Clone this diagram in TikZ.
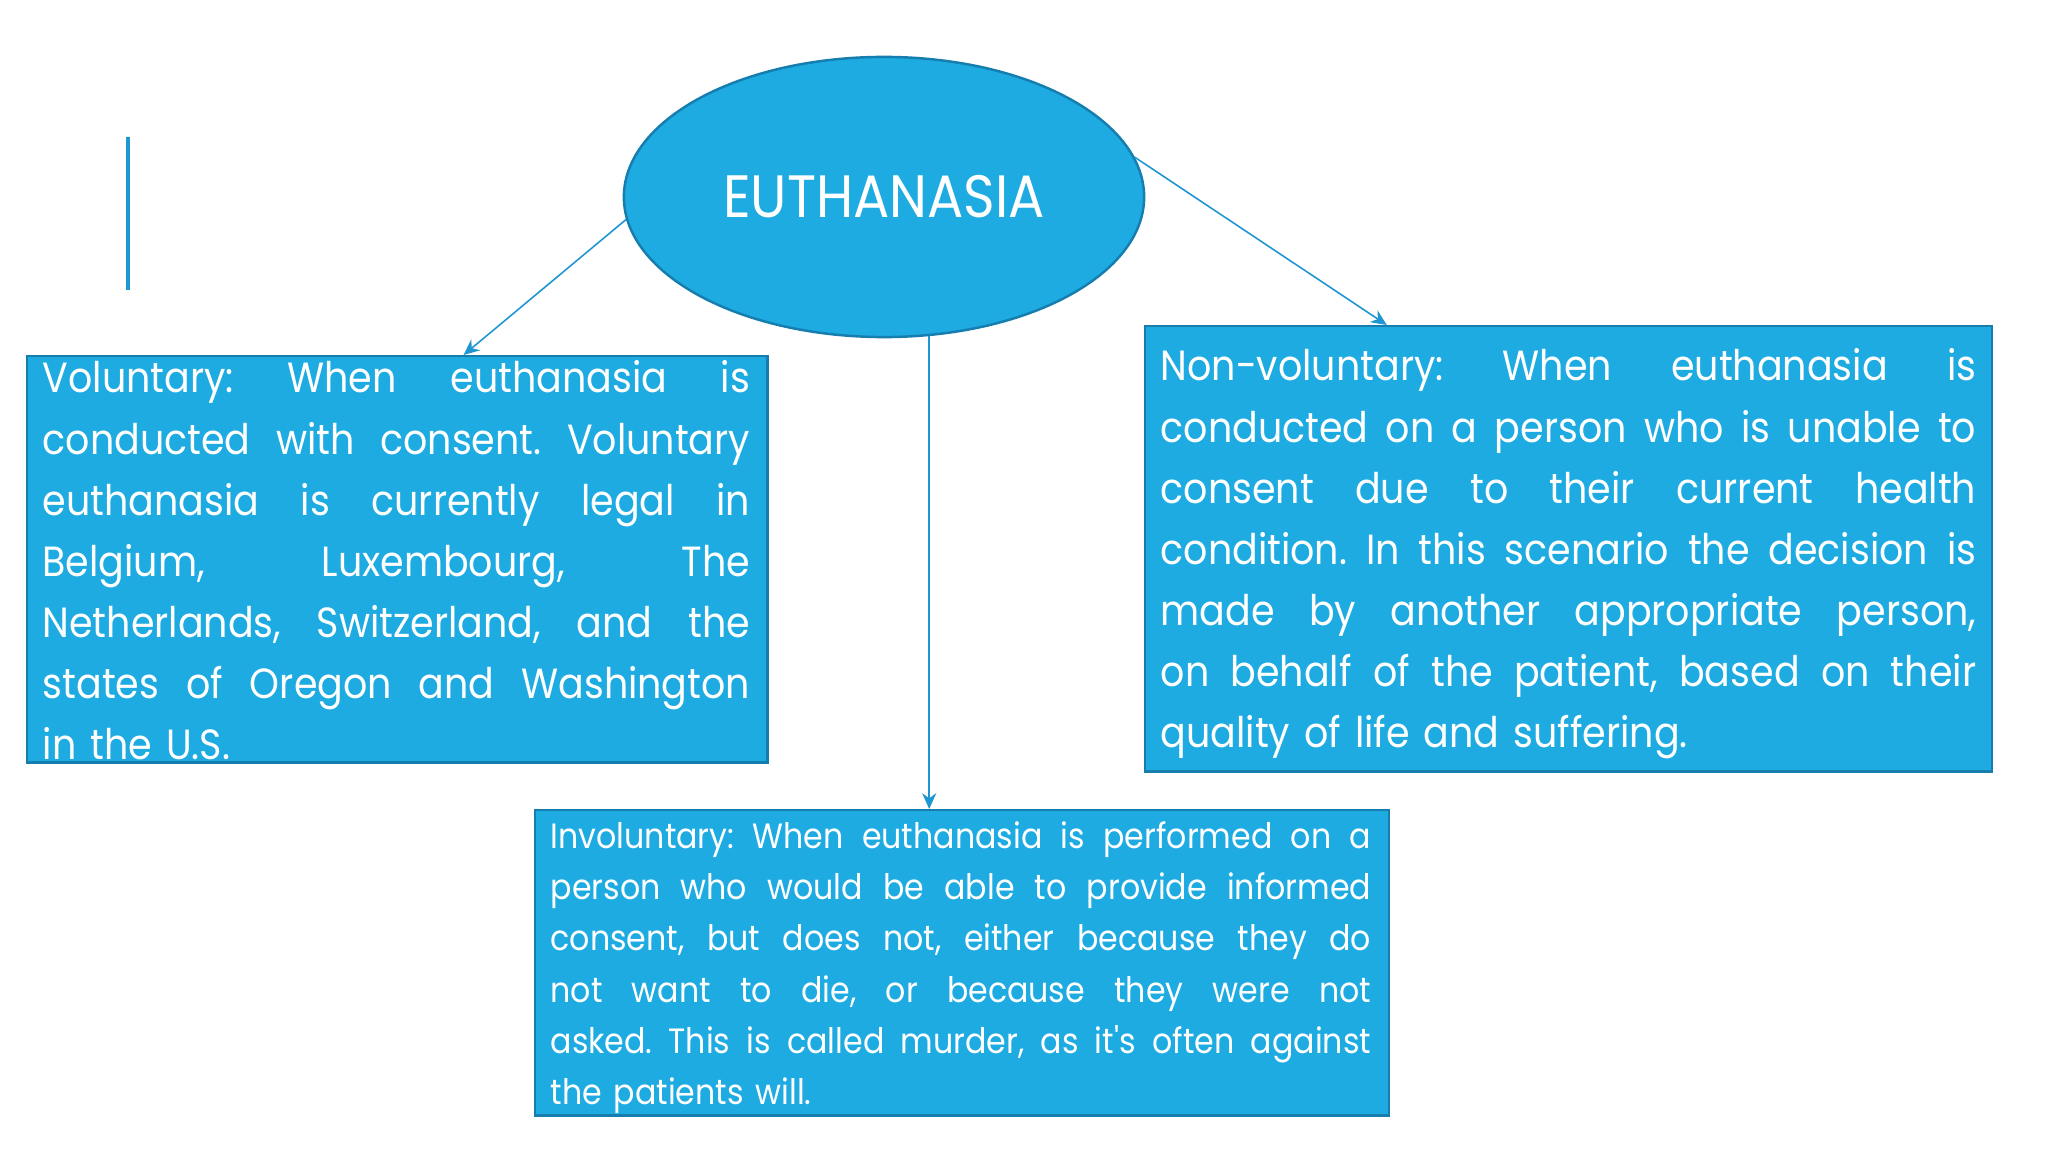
\documentclass[tikz,border=0pt]{standalone}
\usepackage{fontspec}
\setmainfont{Poppins}[FakeStretch=0.9]
\usetikzlibrary{calc,arrows.meta,shapes.geometric}
\definecolor{bluefill}{RGB}{29,171,226}
\definecolor{blueedge}{RGB}{22,125,175}
\definecolor{arrowblue}{RGB}{30,150,210}
\setlength{\parindent}{0pt}
\frenchspacing
\newlength{\lw}
\newcommand{\jline}[1]{\noindent\hbox to \lw{\spaceskip=\fontdimen2\font plus 1fil\relax #1}\par}
\newcommand{\lastline}[1]{\noindent\hbox{#1}\par}
\hbadness=10000
\begin{document}
\begin{tikzpicture}[x=0.01cm,y=-0.01cm,
  box/.style={draw=blueedge, fill=bluefill, line width=0.7pt, rectangle, inner sep=0pt, anchor=north west},
  txt/.style={text=white, inner sep=0pt, anchor=north west},
  conn/.style={draw=arrowblue, line width=0.45pt, -{Stealth[length=4.5pt,width=4pt]}},
]
\path[use as bounding box, fill=white] (0,0) rectangle (2048,1152);

\draw[draw=arrowblue, line width=0.9pt] (128,137) coordinate (vtop) -- (128,290) coordinate (vbot);

\node[ellipse, draw=blueedge, fill=bluefill, line width=0.7pt, minimum width=5.2cm, minimum height=2.8cm, inner sep=0pt, text=white, font=\fontsize{17}{20}\selectfont] (eu) at (884,197) {EUTHANASIA};

\node[box, minimum width=7.40cm, minimum height=4.06cm] (vol) at (26,355) {};
\node[box, minimum width=8.46cm, minimum height=4.45cm] (non) at (1144,325) {};
\node[box, minimum width=8.53cm, minimum height=3.05cm] (inv) at (534,809) {};

\node[txt, text width=7.07cm, font=\fontsize{12}{17.4}\selectfont] (voltxt) at (42,360) {%
\setlength{\lw}{7.07cm}%
\jline{Voluntary: When euthanasia is}%
\jline{conducted with consent. Voluntary}%
\jline{euthanasia is currently legal in}%
\jline{Belgium, Luxembourg, The}%
\jline{Netherlands, Switzerland, and the}%
\jline{states of Oregon and Washington}%
\lastline{in the U.S.}};

\node[txt, text width=8.15cm, font=\fontsize{12}{17.4}\selectfont] (nontxt) at (1160,348) {%
\setlength{\lw}{8.15cm}%
\jline{Non-voluntary: When euthanasia is}%
\jline{conducted on a person who is unable to}%
\jline{consent due to their current health}%
\jline{condition. In this scenario the decision is}%
\jline{made by another appropriate person,}%
\jline{on behalf of the patient, based on their}%
\lastline{quality of life and suffering.}};

\node[txt, text width=8.20cm, font=\fontsize{10}{14.55}\selectfont] (invtxt) at (550,821) {%
\setlength{\lw}{8.20cm}%
\jline{Involuntary: When euthanasia is performed on a}%
\jline{person who would be able to provide informed}%
\jline{consent, but does not, either because they do}%
\jline{not want to die, or because they were not}%
\jline{asked. This is called murder, as it\textquotesingle s often against}%
\lastline{the patients will.}};

\draw[conn] (eu.185) -- ($(vol.north west)!0.589!(vol.north east)$);
\draw[conn] (eu.9) -- ($(non.north west)!0.286!(non.north east)$);
\draw[conn] (eu.288) -- (eu.288 |- inv.north);
\end{tikzpicture}
\end{document}
